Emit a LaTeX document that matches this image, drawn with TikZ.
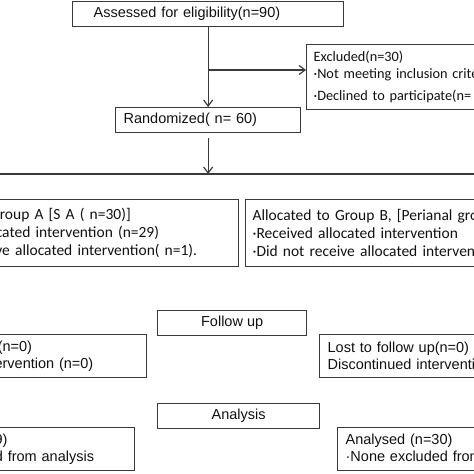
\documentclass[tikz,border=0pt]{standalone}
\usepackage{fontspec}
\setmainfont{Liberation Sans}
\newfontfamily\calfont{Carlito}
\usetikzlibrary{arrows.meta}
\definecolor{flowLine}{HTML}{3A3A3A}
\definecolor{flowText}{HTML}{111111}
\newcommand{\bul}{·}

\begin{document}
\begin{tikzpicture}[x=1pt, y=-1pt,
  box/.style={draw=flowLine, line width=1.3pt, rectangle, inner ysep=0pt, text=flowText, anchor=north west, align=left, font=\fontsize{14.5}{17}\selectfont},
  cbox/.style={box, font=\calfont\fontsize{14.3}{17}\selectfont},
  gbox/.style={box, font=\calfont\fontsize{15.5}{18}\selectfont, inner xsep=7pt, text width=324pt, minimum width=338pt, minimum height=67pt},
  hbox/.style={box, align=center, minimum height=25pt},
  arr/.style={-{Straight Barb[length=6pt, width=9pt]}, draw=flowLine, line width=1.2pt},
  line/.style={draw=flowLine, line width=1.2pt}
]
\useasboundingbox (0,0) rectangle (474,474);
\clip (0,0) rectangle (474,474);

\node[box, inner xsep=21pt, text width=229pt, minimum height=25pt] (assess) at (72,1) {Assessed for eligibility(n=90)};
\node[box, inner xsep=8pt, text width=169pt, minimum height=25pt] (rand) at (115,107) {Randomized( n= 60)};
\node[cbox, inner xsep=7pt, text width=266pt, minimum height=65pt] (excl) at (306,44)
  {Excluded(n=30)\\ \bul Not meeting inclusion criteria\\[5pt] \bul Declined to participate(n=};

\node[gbox] (grpA) at (-100,199) {Allocated to Group A [S A ( n=30)]\\ \bul Received allocated intervention (n=29)\\ \bul Did not receive allocated intervention( n=1).};
\node[gbox] (grpB) at (245,199) {Allocated to Group B, [Perianal group\\ \bul Received allocated intervention\\ \bul Did not receive allocated intervention};

\node[hbox, minimum width=149pt] (follow) at (157,310) {Follow up};
\node[box, inner xsep=8pt, text width=248pt, minimum height=43pt] (lostA) at (-118,334) {Lost to follow up(n=0)\\ Discontinued intervention (n=0)};
\node[box, inner xsep=8pt, text width=243pt, minimum height=43pt] (lostB) at (319,334) {Lost to follow up(n=0)\\ Discontinued intervention};

\node[hbox, minimum width=162pt] (analysis) at (157,403) {Analysis};
\node[box, inner xsep=8pt, text width=226pt, minimum height=43pt] (anA) at (-108,427) {Analysed (n=29)\\ \bul None excluded from analysis};
\node[box, inner xsep=8pt, text width=226pt, minimum height=43pt] (anB) at (337,427) {Analysed (n=30)\\ \bul None excluded from analysis};

\coordinate (branch) at (assess.south |- 0,70);
\coordinate (split) at (rand.south |- 0,174);
\coordinate (splitL) at (-20,174);
\coordinate (splitR) at (500,174);

\draw[arr] (assess) -- (rand);
\draw[arr] (branch) -- (branch -| excl.west);
\draw[arr, shorten <=5pt] (rand) -- (split);
\draw[line] (splitL) -- (splitR);
\end{tikzpicture}
\end{document}
